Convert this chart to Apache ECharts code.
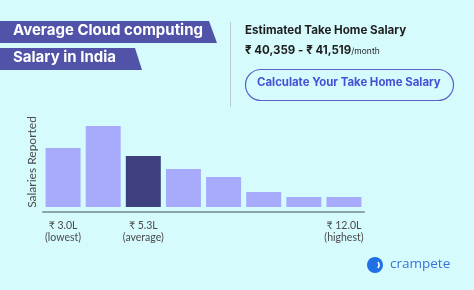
<!DOCTYPE html>
<html>
<head>
<meta charset="utf-8">
<script src="https://cdn.jsdelivr.net/npm/echarts@6/dist/echarts.min.js"></script>
<style>
  html, body { margin: 0; padding: 0; background: #d6fbfd; }
  #chart { width: 474px; height: 290px; }
</style>
</head>
<body>
<div id="chart"></div>
<script>
// salary buckets (lakh per annum) and how many salaries fell in each
const categories = ['3.0L', '4.1L', '5.3L', '6.4L', '7.6L', '8.7L', '9.9L', '12.0L'];
const reported = [59, 81, 51, 38, 30, 15, 10, 10];
const tickLabels = ['₹ 3.0L\n(lowest)', '', '₹ 5.3L\n(average)', '', '', '', '', '₹ 12.0L\n(highest)'];
const averageIndex = 2;

const chart = echarts.init(document.getElementById('chart'));

const option = {
    backgroundColor: '#d6fbfd',
    animation: false,
    grid: { left: 43, right: 110, top: 107, bottom: 78 },
    xAxis: {
        type: 'category',
        data: categories,
        axisLine: { onZero: false, lineStyle: { color: '#8aa6a9', width: 2 } },
        axisTick: { show: false },
        axisLabel: {
            interval: 0,
            margin: 8,
            color: '#4a4a4a',
            fontSize: 10.5,
            lineHeight: 11.5,
            fontFamily: 'Lato',
            formatter: (v, i) => tickLabels[i]
        }
    },
    yAxis: {
        type: 'value',
        min: -5,
        max: 100,
        axisLine: { show: false },
        axisTick: { show: false },
        axisLabel: { show: false },
        splitLine: { show: false }
    },
    series: [{
        type: 'bar',
        barWidth: 35,
        data: reported.map((v, i) => ({
            value: v,
            itemStyle: { color: i === averageIndex ? '#3d3f7e' : '#a8aafc' }
        }))
    }],
    graphic: [
        // y axis title
        {
            type: 'text', x: 32, y: 162, rotation: Math.PI / 2,
            style: {
                text: 'Salaries Reported', fill: '#4a4a4a', font: '12px Lato',
                align: 'center', verticalAlign: 'middle'
            }
        },
        // title ribbons
        {
            type: 'polygon',
            shape: { points: [[0, 21], [209, 21], [217, 43], [0, 43]] },
            style: { fill: '#5053a8' }
        },
        {
            type: 'polygon',
            shape: { points: [[0, 48], [135, 48], [142, 70], [0, 70]] },
            style: { fill: '#5053a8' }
        },
        {
            type: 'text', left: 13, top: 23,
            style: { text: 'Average Cloud computing', fill: '#fff', font: 'bold 15px Inter' }
        },
        {
            type: 'text', left: 13, top: 50,
            style: { text: 'Salary in India', fill: '#fff', font: 'bold 15px Inter' }
        },
        // divider
        {
            type: 'line',
            shape: { x1: 230.5, y1: 22, x2: 230.5, y2: 107 },
            style: { stroke: '#b9ccd4', lineWidth: 1 }
        },
        // right panel
        {
            type: 'text', left: 245, top: 25,
            style: { text: 'Estimated Take Home Salary', fill: '#1e1e1e', font: 'bold 11.6px Inter' }
        },
        {
            type: 'text', left: 245, top: 45,
            style: {
                text: '{a|₹ 40,359 - ₹ 41,519}{b|/month}',
                rich: {
                    a: { fill: '#1e1e1e', font: 'bold 11.5px Inter' },
                    b: { fill: '#1e1e1e', font: '8.5px Inter' }
                }
            }
        },
        {
            type: 'rect',
            shape: { x: 245.5, y: 69.5, width: 208, height: 31, r: 15.5 },
            style: { fill: 'none', stroke: '#5b63c9', lineWidth: 1.2 }
        },
        {
            type: 'text', left: 257, top: 77,
            style: { text: 'Calculate Your Take Home Salary', fill: '#4650d6', font: 'bold 11.4px Inter' }
        },
        // logo
        {
            type: 'circle',
            shape: { cx: 375, cy: 265, r: 8 },
            style: { fill: '#1f6fe5' }
        },
        {
            type: 'arc',
            shape: { cx: 375, cy: 265, r: 4, startAngle: Math.PI * 0.25, endAngle: Math.PI * 1.75, clockwise: false },
            style: { stroke: '#fff', lineWidth: 1.8, fill: 'none' }
        },
        {
            type: 'text', left: 390, top: 257,
            style: { text: 'crampete', fill: '#3a72db', font: '13.5px "Open Sans"' }
        }
    ]
};

chart.setOption(option);
</script>
</body>
</html>
